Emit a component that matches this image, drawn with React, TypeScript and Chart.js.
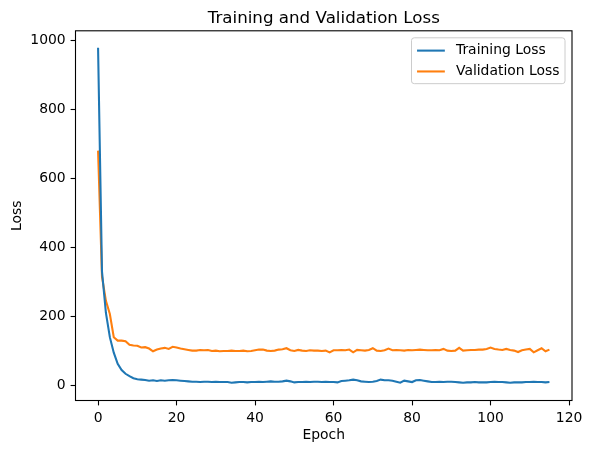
import React, { useEffect, useRef } from "react";
import { Chart, registerables } from "chart.js";

Chart.register(...registerables);

const chartTitle = "Training and Validation Loss";
const xLabel = "Epoch";
const yLabel = "Loss";
const seriesNames = ["Training Loss", "Validation Loss"];
const seriesColors = ["#1f77b4", "#ff7f0e"];

const xTicks = [0, 20, 40, 60, 80, 100, 120];
const yTicks = [0, 200, 400, 600, 800, 1000];

const trainingLoss = [
  978, 330, 210, 140, 95, 63, 45, 34, 27, 21,
  18, 17, 16, 14, 15, 13, 15, 14, 15, 16,
  15, 14, 13, 12, 11, 11, 10, 11, 11, 10,
  11, 10, 10, 10, 8, 9, 10, 10, 9, 10,
  10, 11, 10, 11, 12, 11, 11, 12, 14, 12,
  9, 10, 10, 11, 10, 11, 11, 10, 11, 10,
  10, 9, 13, 14, 15, 17, 15, 12, 11, 10,
  11, 13, 17, 15, 15, 14, 11, 8, 14, 12,
  10, 15, 16, 14, 12, 10, 10, 11, 10, 11,
  11, 10, 9, 8, 9, 9, 10, 9, 9, 9,
  10, 11, 10, 10, 9, 8, 9, 9, 9, 10,
  10, 11, 10, 10, 9, 10,
];

const validationLoss = [
  680, 315, 245, 207, 140, 130, 130, 128, 118, 116,
  115, 110, 111, 107, 99, 104, 107, 109, 106, 112,
  110, 107, 105, 103, 101, 101, 103, 102, 103, 100,
  101, 99, 100, 100, 101, 100, 100, 101, 99, 100,
  102, 104, 104, 101, 100, 101, 104, 105, 108, 102,
  100, 103, 101, 100, 102, 101, 101, 100, 101, 96,
  102, 102, 103, 102, 104, 96, 103, 102, 101, 103,
  108, 101, 100, 102, 107, 102, 103, 102, 101, 103,
  102, 103, 104, 103, 102, 102, 103, 102, 106, 101,
  100, 101, 109, 101, 102, 103, 103, 104, 104, 106,
  110, 106, 104, 103, 106, 103, 101, 97, 102, 104,
  106, 96, 102, 108, 99, 104,
];

const FONT = "DejaVu Sans";
const FS = 13.9;

const decorPlugin = {
  id: "mplDecor",
  afterDraw(chart: any) {
    const { ctx, chartArea: ca } = chart;
    ctx.save();
    // spines
    ctx.strokeStyle = "#000";
    ctx.lineWidth = 1.1;
    ctx.strokeRect(ca.left, ca.top, ca.right - ca.left, ca.bottom - ca.top);

    // title
    ctx.fillStyle = "#000";
    ctx.font = `16.7px "${FONT}"`;
    ctx.textAlign = "center";
    ctx.textBaseline = "alphabetic";
    ctx.fillText(chartTitle, (ca.left + ca.right) / 2, ca.top - 8.3);

    // legend
    ctx.font = `${FS}px "${FONT}"`;
    const ds = chart.data.datasets;
    let maxW = 0;
    ds.forEach((d: any) => {
      maxW = Math.max(maxW, ctx.measureText(d.label).width);
    });
    const bp = 0.4 * FS;
    const hl = 2 * FS;
    const htp = 0.8 * FS;
    const ls = 0.5 * FS;
    const rowH = FS;
    const w = bp + hl + htp + maxW + bp;
    const h = bp * 2 + ds.length * rowH + (ds.length - 1) * ls;
    const bx = ca.right - 7 - w;
    const by = ca.top + 7;
    const r = 2.8;
    ctx.beginPath();
    ctx.moveTo(bx + r, by);
    ctx.lineTo(bx + w - r, by);
    ctx.quadraticCurveTo(bx + w, by, bx + w, by + r);
    ctx.lineTo(bx + w, by + h - r);
    ctx.quadraticCurveTo(bx + w, by + h, bx + w - r, by + h);
    ctx.lineTo(bx + r, by + h);
    ctx.quadraticCurveTo(bx, by + h, bx, by + h - r);
    ctx.lineTo(bx, by + r);
    ctx.quadraticCurveTo(bx, by, bx + r, by);
    ctx.closePath();
    ctx.fillStyle = "rgba(255,255,255,0.8)";
    ctx.fill();
    ctx.strokeStyle = "#cccccc";
    ctx.lineWidth = 1;
    ctx.stroke();
    ds.forEach((d: any, i: number) => {
      const cy = by + bp + rowH / 2 + i * (rowH + ls) + 0.3;
      ctx.strokeStyle = d.borderColor;
      ctx.lineWidth = 2.08;
      ctx.beginPath();
      ctx.moveTo(bx + bp, cy);
      ctx.lineTo(bx + bp + hl, cy);
      ctx.stroke();
      ctx.fillStyle = "#000";
      ctx.textAlign = "left";
      ctx.textBaseline = "middle";
      ctx.fillText(d.label, bx + bp + hl + htp, cy);
    });
    ctx.restore();
  },
};

export default function App() {
  const ref = useRef<HTMLCanvasElement | null>(null);

  useEffect(() => {
    if (!ref.current) return;
    const chart = new Chart(ref.current, {
      type: "line",
      data: {
        datasets: [
          {
            label: seriesNames[0],
            data: trainingLoss.map((v, i) => ({ x: i, y: v })),
            borderColor: seriesColors[0],
            backgroundColor: seriesColors[0],
            borderWidth: 2.08,
            pointRadius: 0,
            tension: 0,
          },
          {
            label: seriesNames[1],
            data: validationLoss.map((v, i) => ({ x: i, y: v })),
            borderColor: seriesColors[1],
            backgroundColor: seriesColors[1],
            borderWidth: 2.08,
            pointRadius: 0,
            tension: 0,
          },
        ],
      },
      options: {
        animation: false,
        responsive: true,
        maintainAspectRatio: false,
        layout: { padding: { top: 30.8, right: 19, bottom: 0, left: 0 } },
        plugins: {
          legend: { display: false },
          title: { display: false },
          tooltip: { enabled: false },
        },
        scales: {
          x: {
            type: "linear",
            min: -5.75,
            max: 120.75,
            afterBuildTicks: (axis: any) => {
              axis.ticks = xTicks.map((v) => ({ value: v }));
            },
            afterFit: (scale: any) => {
              scale.height = 52.5;
            },
            grid: {
              display: true,
              drawOnChartArea: false,
              drawTicks: true,
              tickLength: 4.9,
              tickWidth: 1.1,
              tickColor: "#000",
            },
            border: { display: false },
            ticks: {
              color: "#000",
              padding: 4.9,
              maxRotation: 0,
              autoSkip: false,
              font: { family: FONT, size: FS },
              callback: (v: any) => String(v),
            },
            title: {
              display: true,
              text: xLabel,
              color: "#000",
              font: { family: FONT, size: FS },
              padding: { top: 0, bottom: 9.7 },
            },
          },
          y: {
            type: "linear",
            min: -43.4,
            max: 1027,
            afterBuildTicks: (axis: any) => {
              axis.ticks = yTicks.map((v) => ({ value: v }));
            },
            afterFit: (scale: any) => {
              scale.width = 75.5;
            },
            grid: {
              display: true,
              drawOnChartArea: false,
              drawTicks: true,
              tickLength: 4.9,
              tickWidth: 1.1,
              tickColor: "#000",
            },
            border: { display: false },
            ticks: {
              color: "#000",
              padding: 4.9,
              autoSkip: false,
              font: { family: FONT, size: FS },
              callback: (v: any) => String(v),
            },
            title: {
              display: true,
              text: yLabel,
              color: "#000",
              font: { family: FONT, size: FS },
              padding: { top: 8.7, bottom: 0 },
            },
          },
        },
      },
      plugins: [decorPlugin],
    } as any);
    return () => chart.destroy();
  }, []);

  return (
    <div style={{ position: "absolute", left: 0, top: 0, width: 591, height: 453, background: "#fff" }}>
      <canvas ref={ref} />
    </div>
  );
}
